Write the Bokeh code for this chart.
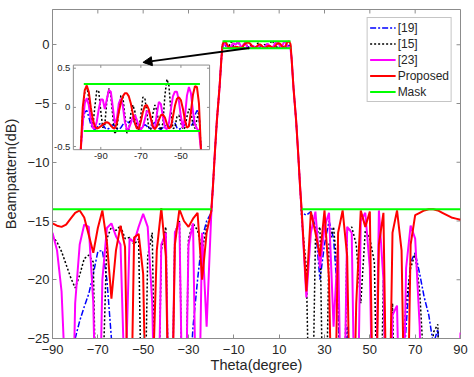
import math
from bokeh.plotting import figure
from bokeh.models import (Range1d, Legend, LegendItem, Arrow, NormalHead, FixedTicker)
from bokeh.core.properties import value
from bokeh.embed import file_html
from bokeh.resources import INLINE

FONT = "Liberation Sans"
AXIS_GRAY = "#8c8c8c"
TEXT = "#262626"

# ---------------- data ----------------
x_ticks = [-90, -70, -50, -30, -10, 10, 30, 50, 70, 90]
y_ticks = [-25, -20, -15, -10, -5, 0]

left_x = [-90, -88, -86, -84, -82, -80, -78, -76, -74, -72, -70, -68, -66, -64, -62, -60, -58, -56,
          -54, -52, -50, -48, -46, -44, -42, -40, -38, -36, -34, -32, -30, -28, -26, -24, -22, -20]
right_x = [20, 22, 24, 26, 28, 30, 32, 34, 36, 38, 40, 42, 44, 46, 48, 50, 52, 54,
           56, 58, 60, 62, 64, 66, 68, 70, 72, 74, 76, 78, 80, 82, 84, 86, 88, 90]

# main-lobe edges (shared)
rise_x = [-19.2, -18.4, -17.5, -16.3, -15.5]
rise_y = [-12.0, -9.3, -6.5, -3.6, -1.2]
fall_x = [15.5, 16.3, 17.5, 18.4, 19.2]
fall_y = [-1.2, -3.6, -6.5, -9.3, -12.0]

# side lobes (dB)
prop_left = [-15.2, -15.4, -15.5, -15.3, -14.8, -14.3, -14.1, -14.7, -16.2, -17.7, -15.6, -14.1, -16.8, -21.6,
             -17.5, -15.4, -17.2, -40, -16.4, -16.1, -19.5, -40, -30, -17.5, -13.9, -18, -40, -17, -14,
             -15, -15.5, -14.8, -14.3, -20, -16, -14.2]
prop_right = [-14.3, -21, -14.2, -16, -18, -14.1, -20, -40, -16, -14.1, -18, -40, -22, -14.1, -15.5, -14.2,
              -40, -17, -14.3, -40, -16, -14.1, -17.5, -40, -17, -14.5, -14.3, -14.1, -14.0, -14.0, -14.1,
              -14.3, -14.5, -14.7, -14.8, -14.9]
r15_left = [-16.3, -16.8, -17.6, -18.7, -19.8, -20.7, -19.6, -18.2, -17.9, -18.5, -40, -30, -16.5, -15.5,
            -15.8, -15.4, -16.5, -16.4, -17, -16.5, -40, -18, -16, -40, -17.5, -15.5, -40, -16, -15, -40,
            -16.5, -15.2, -15.8, -17.5, -15.5, -14.5]
r15_right = [-15, -19, -40, -16.5, -15.5, -40, -17, -15.5, -20, -40, -16, -15.5, -17, -22, -15.8, -16.5,
             -18.5, -40, -20, -40, -22, -40, -27, -22, -19, -17.8, -21, -28, -40, -24.5, -23.8, -40, -45,
             -45, -45, -45]
r19_left = [-45, -45, -42, -38, -30, -25, -23.5, -22.3, -21.2, -19.5, -17.6, -17.5, -20, -25, -32, -36, -33,
            -28, -30, -35, -30, -27, -33, -29, -35, -28, -32, -27, -30, -26, -30, -24, -20, -16.5, -15, -14.3]
r19_right = [-14.3, -14.5, -14.2, -15.5, -20, -17, -15, -16.5, -22, -40, -24, -30, -26, -33, -28, -35, -30,
             -38, -30, -40, -27, -35, -30, -24, -18.5, -17.7, -19.5, -21.5, -23, -25.5, -24.2, -30, -38,
             -42, -45, -45]
r23_left = [-16.0, -17.5, -21, -30, -40, -22, -17, -15.3, -15.5, -22, -40, -20, -15.6, -15.2, -16.3, -17,
            -30, -16.5, -16.8, -15.5, -14.4, -15.5, -22, -40, -17, -16, -40, -16, -15.1, -40, -17, -15.2,
            -40, -16, -24, -14.6]
r23_right = [-14.5, -21.5, -16, -14.2, -19, -15.5, -14.3, -24, -17, -40, -15.5, -16, -40, -15, -14.3, -19,
             -40, -14.1, -20, -40, -23, -22.2, -40, -19, -15.4, -16.5, -24, -40, -45, -45, -45, -45, -45,
             -45, -40, -24.5]

# pass-band ripple as shown in the inset (inset axis units)
inset_x = list(range(-100, -39))
prop_pass = [-0.54, 0.0, 0.22, 0.28, 0.2, 0.0, -0.15, -0.24, -0.27, -0.26, -0.24, -0.22, -0.2, -0.19, -0.2,
             -0.23, -0.26, -0.27, -0.2, -0.06, 0.06, 0.14, 0.18, 0.18, 0.14, 0.05, -0.08, -0.2, -0.27, -0.27,
             -0.18, -0.06, 0.02, 0.03, -0.03, -0.14, -0.24, -0.28, -0.24, -0.16, -0.1, -0.09, -0.13, -0.21,
             -0.27, -0.25, -0.12, 0.02, 0.11, 0.13, 0.09, -0.02, -0.16, -0.26, -0.24, -0.05, 0.16, 0.27,
             0.26, 0.05, -0.54]
r15_pass = [-0.54, -0.05, 0.2, 0.27, 0.12, -0.12, -0.25, 0.0, 0.22, 0.2, -0.05, -0.26, -0.22, 0.08, 0.24,
            0.15, -0.12, -0.34, -0.28, -0.05, 0.15, 0.14, -0.1, -0.33, -0.28, -0.08, 0.03, -0.05, -0.24,
            -0.29, -0.1, 0.13, 0.12, -0.08, -0.27, -0.28, -0.08, 0.03, -0.04, -0.22, -0.29, -0.2, 0.15,
            0.36, 0.28, -0.05, -0.27, -0.26, -0.12, -0.1, -0.2, -0.28, -0.26, -0.12, -0.02, -0.06, -0.22,
            -0.27, -0.15, -0.05, -0.54]
r23_pass = [-0.54, -0.2, 0.05, 0.12, 0.03, -0.15, -0.26, -0.27, -0.18, -0.02, 0.1, 0.1, -0.02, 0.1, 0.22,
            0.2, 0.0, -0.2, -0.15, 0.05, 0.11, 0.02, -0.18, -0.28, -0.27, -0.2, -0.12, -0.1, -0.16, -0.25,
            -0.28, -0.25, -0.15, -0.05, -0.05, -0.15, -0.26, -0.27, -0.08, 0.07, 0.04, -0.12, -0.26, -0.28,
            -0.2, -0.02, 0.14, 0.2, 0.2, 0.08, -0.12, -0.26, -0.12, 0.15, 0.26, 0.18, -0.05, -0.22, -0.27,
            -0.3, -0.54]
r19_pass = [-0.54, -0.2, -0.06, -0.04, -0.12, -0.22, -0.27, -0.28, -0.26, -0.22, -0.2, -0.22, -0.26, -0.28,
            -0.27, -0.24, -0.22, -0.24, -0.27, -0.28, -0.26, -0.22, -0.18, -0.17, -0.2, -0.17, -0.16, -0.2,
            -0.26, -0.28, -0.27, -0.24, -0.22, -0.24, -0.27, -0.26, -0.21, -0.19, -0.22, -0.27, -0.28,
            -0.26, -0.23, -0.24, -0.27, -0.22, -0.18, -0.2, -0.26, -0.28, -0.27, -0.25, -0.22, -0.2, -0.22,
            -0.24, -0.2, -0.1, -0.04, -0.06, -0.54]

# masks
mask_x = [-90, -20, math.nan, -15, 15, math.nan, -15, 15, math.nan, 20, 90]
mask_y = [-14, -14, math.nan, 0.3, 0.3, math.nan, -0.3, -0.3, math.nan, -14, -14]
inset_mask_x = [-98.5, -40.5, math.nan, -98.5, -40.5]
inset_mask_y = [0.3, 0.3, math.nan, -0.3, -0.3]

inset_x_ticks = [-90, -70, -50]
inset_y_ticks = [-0.5, 0, 0.5]
inset_y_labels = ["-0.5", "0", "0.5"]

# pass-band ripple positions in degrees (inset span -99..-41 <-> -15..15 deg)
pass_theta = [-15 + (v + 99) * 30 / 58 for v in inset_x[1:-1]]


def full_x():
    return left_x + rise_x + pass_theta + fall_x + right_x


def full_y(left, passband, right):
    return left + rise_y + passband[1:-1] + fall_y + right


# ---------------- figure ----------------
X0, X1, Y0, Y1 = -90, 90, -25, 3
p = figure(width=474, height=377, x_range=Range1d(X0, X1), y_range=Range1d(Y0, Y1),
           output_backend="svg", toolbar_location=None,
           min_border_left=48, min_border_right=14, min_border_top=9, min_border_bottom=39)
p.background_fill_color = "white"
p.border_fill_color = "white"
p.outline_line_color = AXIS_GRAY
p.xgrid.visible = False
p.ygrid.visible = False

p.xaxis.ticker = FixedTicker(ticks=x_ticks)
p.yaxis.ticker = FixedTicker(ticks=y_ticks)
p.xaxis.axis_label = "Theta(degree)"
p.yaxis.axis_label = "Beampattern(dB)"
for ax in (p.xaxis[0], p.yaxis[0]):
    ax.major_tick_in = 4
    ax.major_tick_out = 0
    ax.minor_tick_line_color = None
    ax.axis_line_color = AXIS_GRAY
    ax.major_tick_line_color = AXIS_GRAY
    ax.major_label_text_font = FONT
    ax.major_label_text_font_size = "13px"
    ax.major_label_text_color = TEXT
    ax.axis_label_text_font = FONT
    ax.axis_label_text_font_size = "14.5px"
    ax.axis_label_text_font_style = "normal"
    ax.axis_label_text_color = TEXT
p.xaxis.major_label_standoff = 6
p.xaxis.axis_label_standoff = 0
p.yaxis.major_label_standoff = 3
p.yaxis.axis_label_standoff = 5

# tick marks on the top and right edges of the box
nx, ny = len(x_ticks), len(y_ticks)
p.segment(x0=x_ticks, y0=[Y1] * nx, x1=x_ticks, y1=[Y1 - 0.34] * nx, line_color=AXIS_GRAY)
p.segment(x0=[X1] * ny, y0=y_ticks, x1=[X1 - 1.75] * ny, y1=y_ticks, line_color=AXIS_GRAY)

xs = full_x()
r_blue = p.line(xs, full_y(r19_left, r19_pass, r19_right), line_color="#0000ff", line_width=1.5,
                line_dash="6 2 2 2")
r_black = p.line(xs, full_y(r15_left, r15_pass, r15_right), line_color="#000000", line_width=1.5,
                 line_dash="2 2")
r_mag = p.line(xs, full_y(r23_left, r23_pass, r23_right), line_color="#ff00ff", line_width=2)
r_red = p.line(xs, full_y(prop_left, prop_pass, prop_right), line_color="#ff0000", line_width=2)
r_mask = p.line(mask_x, mask_y, line_color="#00ff00", line_width=2)

# ---------------- inset ----------------
inset_xr = (-103.7, -35.7)
inset_yr = (-0.54, 0.54)
sub = p.subplot(x_source=Range1d(*inset_xr), y_source=Range1d(*inset_yr),
                x_target=Range1d(-80.8, -20.7), y_target=Range1d(-8.93, -1.73))
sub.quad(left=[inset_xr[0]], right=[inset_xr[1]], bottom=[inset_yr[0]], top=[inset_yr[1]],
         fill_color="white", line_color=None)
sub.line(inset_x, r19_pass, line_color="#0000ff", line_width=1.5, line_dash="6 2 2 2")
sub.line(inset_x, r15_pass, line_color="#000000", line_width=1.5, line_dash="2 2")
sub.line(inset_x, r23_pass, line_color="#ff00ff", line_width=2)
sub.line(inset_x, prop_pass, line_color="#ff0000", line_width=2)
sub.line(inset_mask_x, inset_mask_y, line_color="#00ff00", line_width=2)
sub.quad(left=[inset_xr[0]], right=[inset_xr[1]], bottom=[inset_yr[0]], top=[inset_yr[1]],
         fill_color=None, line_color=AXIS_GRAY, line_width=1)
n = len(inset_x_ticks)
sub.segment(x0=inset_x_ticks, y0=[inset_yr[0]] * n, x1=inset_x_ticks, y1=[inset_yr[0] + 0.035] * n,
            line_color=AXIS_GRAY)
sub.segment(x0=inset_x_ticks, y0=[inset_yr[1]] * n, x1=inset_x_ticks, y1=[inset_yr[1] - 0.035] * n,
            line_color=AXIS_GRAY)
m = len(inset_y_ticks)
sub.segment(x0=[inset_xr[0]] * m, y0=inset_y_ticks, x1=[inset_xr[0] + 1.3] * m, y1=inset_y_ticks,
            line_color=AXIS_GRAY)
sub.segment(x0=[inset_xr[1]] * m, y0=inset_y_ticks, x1=[inset_xr[1] - 1.3] * m, y1=inset_y_ticks,
            line_color=AXIS_GRAY)
sub.text(x=inset_x_ticks, y=[inset_yr[0]] * n, text=[str(t) for t in inset_x_ticks],
         text_align="center", text_baseline="top", y_offset=3,
         text_font=value(FONT), text_font_size=value("9.5px"), text_color=TEXT)
sub.text(x=[inset_xr[0]] * m, y=inset_y_ticks, text=inset_y_labels,
         text_align="right", text_baseline="middle", x_offset=-3,
         text_font=value(FONT), text_font_size=value("9.5px"), text_color=TEXT)

# arrow from the pass band to the inset
arrow_x = [-3.1, -50.1]
arrow_y = [-0.28, -1.5]
p.add_layout(Arrow(end=NormalHead(size=9, fill_color="black", line_color="black"),
                   x_start=arrow_x[0], y_start=arrow_y[0], x_end=arrow_x[1], y_end=arrow_y[1],
                   line_width=2, line_color="black"))

# ---------------- legend ----------------
legend = Legend(items=[LegendItem(label="[19]", renderers=[r_blue]),
                       LegendItem(label="[15]", renderers=[r_black]),
                       LegendItem(label="[23]", renderers=[r_mag]),
                       LegendItem(label="Proposed", renderers=[r_red]),
                       LegendItem(label="Mask", renderers=[r_mask])],
                location="top_right")
legend.label_text_font = FONT
legend.label_text_font_size = "12px"
legend.label_text_color = TEXT
legend.glyph_width = 26
legend.glyph_height = 15
legend.label_height = 15
legend.label_standoff = 2
legend.spacing = 1
legend.padding = 2
legend.margin = 8
legend.border_line_color = AXIS_GRAY
legend.background_fill_alpha = 1
p.add_layout(legend)

open("out.html", "w").write(file_html(p, INLINE))
